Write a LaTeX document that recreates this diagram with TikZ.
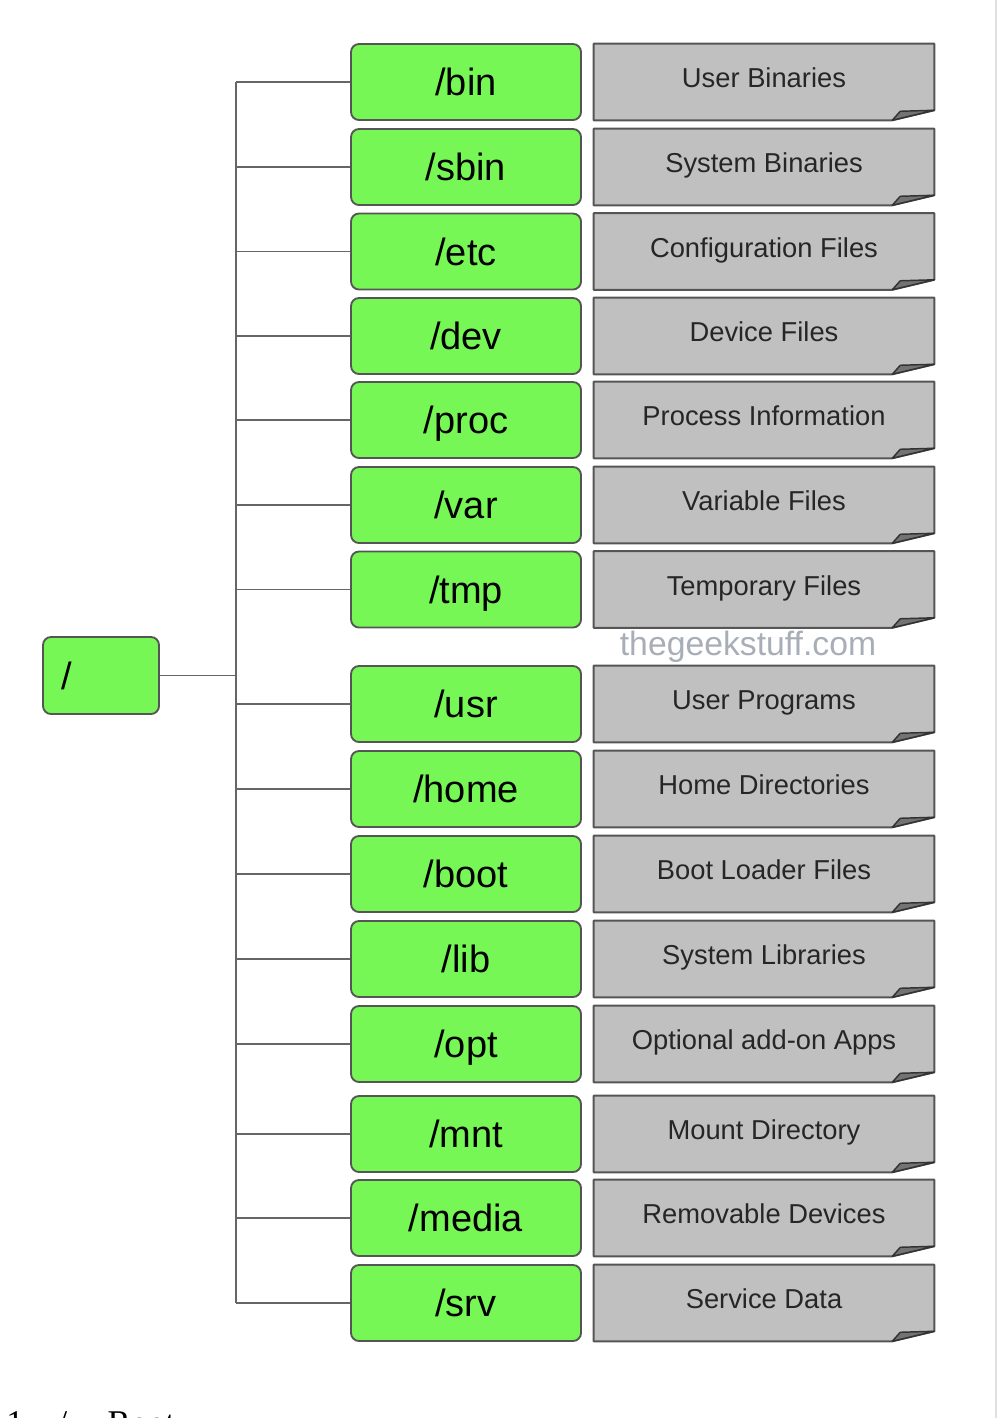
\documentclass[tikz,border=0pt]{standalone}
\usepackage{fontspec}
\setmainfont{Liberation Sans}
\newfontfamily\seriftitre{Liberation Serif}
\usetikzlibrary{backgrounds}
\definecolor{vert}{HTML}{77F755}
\definecolor{gris}{HTML}{C0C0C0}
\definecolor{bord}{HTML}{555555}
\definecolor{marque}{HTML}{A8AEB8}

\begin{document}
\begin{tikzpicture}[x=0.75pt,y=-0.75pt]
% style des nœuds
\tikzstyle{dossier}=[rectangle,draw=bord,line width=1.4pt,rounded corners=6pt,fill=vert,minimum width=172.5pt,minimum height=57pt,inner sep=0pt,text height=20.5pt,text depth=0pt,font=\fontsize{28.5}{30}\selectfont]
\tikzstyle{fiche}=[rectangle,minimum width=255pt,minimum height=57pt,inner sep=0pt,text height=14.8pt,text depth=6pt,font=\fontsize{20.5}{22}\selectfont,text=black!85]
% style des traits
\tikzstyle{branche}=[draw=bord!90,line width=1.2pt]
\tikzstyle{contour}=[draw=bord,line width=1.5pt,fill=gris,line join=round]
\tikzstyle{pli}=[draw=black!80,line width=1.1pt,fill=gris!60!black,line join=round]
\useasboundingbox (0,0) rectangle (1000,1418);
% racine
\node[dossier,minimum width=87pt,minimum height=57.75pt,inner xsep=14pt,text width=59pt,align=left] (racine) at (101,675.5) {/};
% placement des dossiers
\node[dossier] (bin) at (466,82) {/bin};
\node[dossier] (sbin) at (466,167) {/sbin};
\node[dossier] (etc) at (466,251.5) {/etc};
\node[dossier] (dev) at (466,336) {/dev};
\node[dossier] (proc) at (466,420) {/proc};
\node[dossier] (var) at (466,505) {/var};
\node[dossier] (tmp) at (466,589.5) {/tmp};
\node[dossier] (usr) at (466,704) {/usr};
\node[dossier] (home) at (466,789) {/home};
\node[dossier] (boot) at (466,874) {/boot};
\node[dossier] (lib) at (466,959) {/lib};
\node[dossier] (opt) at (466,1044) {/opt};
\node[dossier] (mnt) at (466,1134) {/mnt};
\node[dossier] (media) at (466,1218) {/media};
\node[dossier] (srv) at (466,1303) {/srv};
% placement des fiches
\node[fiche] (bin-f) at (764,82) {User Binaries};
\node[fiche] (sbin-f) at (764,167) {System Binaries};
\node[fiche] (etc-f) at (764,251.5) {Configuration Files};
\node[fiche] (dev-f) at (764,336) {Device Files};
\node[fiche] (proc-f) at (764,420) {Process Information};
\node[fiche] (var-f) at (764,505) {Variable Files};
\node[fiche] (tmp-f) at (764,589.5) {Temporary Files};
\node[fiche] (usr-f) at (764,704) {User Programs};
\node[fiche] (home-f) at (764,789) {Home Directories};
\node[fiche] (boot-f) at (764,874) {Boot Loader Files};
\node[fiche] (lib-f) at (764,959) {System Libraries};
\node[fiche] (opt-f) at (764,1044) {Optional add-on Apps};
\node[fiche] (mnt-f) at (764,1134) {Mount Directory};
\node[fiche] (media-f) at (764,1218) {Removable Devices};
\node[fiche] (srv-f) at (764,1303) {Service Data};
\begin{scope}[on background layer]
\foreach \n in {bin,sbin,etc,dev,proc,var,tmp,usr,home,boot,lib,opt,mnt,media,srv}{
  \draw[contour] (\n-f.north west) -- (\n-f.north east) -- ([yshift=7.5pt]\n-f.south east)
    -- ([xshift=-31.5pt]\n-f.south east) -- (\n-f.south west) -- cycle;
  \draw[pli] ([xshift=-31.5pt]\n-f.south east) -- ([xshift=-25.5pt,yshift=6.75pt]\n-f.south east)
    -- ([yshift=7.5pt]\n-f.south east) -- cycle;
}
\end{scope}
\node[font=\fontsize{25.3}{26}\selectfont,text=marque] (site) at (748,647) {thegeekstuff.com};
% placement des traits
\coordinate (haut) at (236,82);
\coordinate (bas) at (236,1303);
\draw[branche] (haut) -- (bas);
\draw[branche] (racine.east) -- (racine.east -| haut);
\foreach \n in {bin,sbin,etc,dev,proc,var,tmp,usr,home,boot,lib,opt,mnt,media,srv}
  \draw[branche] (\n.west) -- (\n.west -| haut);
% bas de page
\node[font=\seriftitre\fontsize{26}{28}\selectfont,anchor=base west,inner sep=0pt] (titre) at (6,1434) {1.\hspace{19pt}/ -- Root};
\draw[black!12,line width=2pt] (996,0) -- (996,1418);
\end{tikzpicture}
\end{document}
